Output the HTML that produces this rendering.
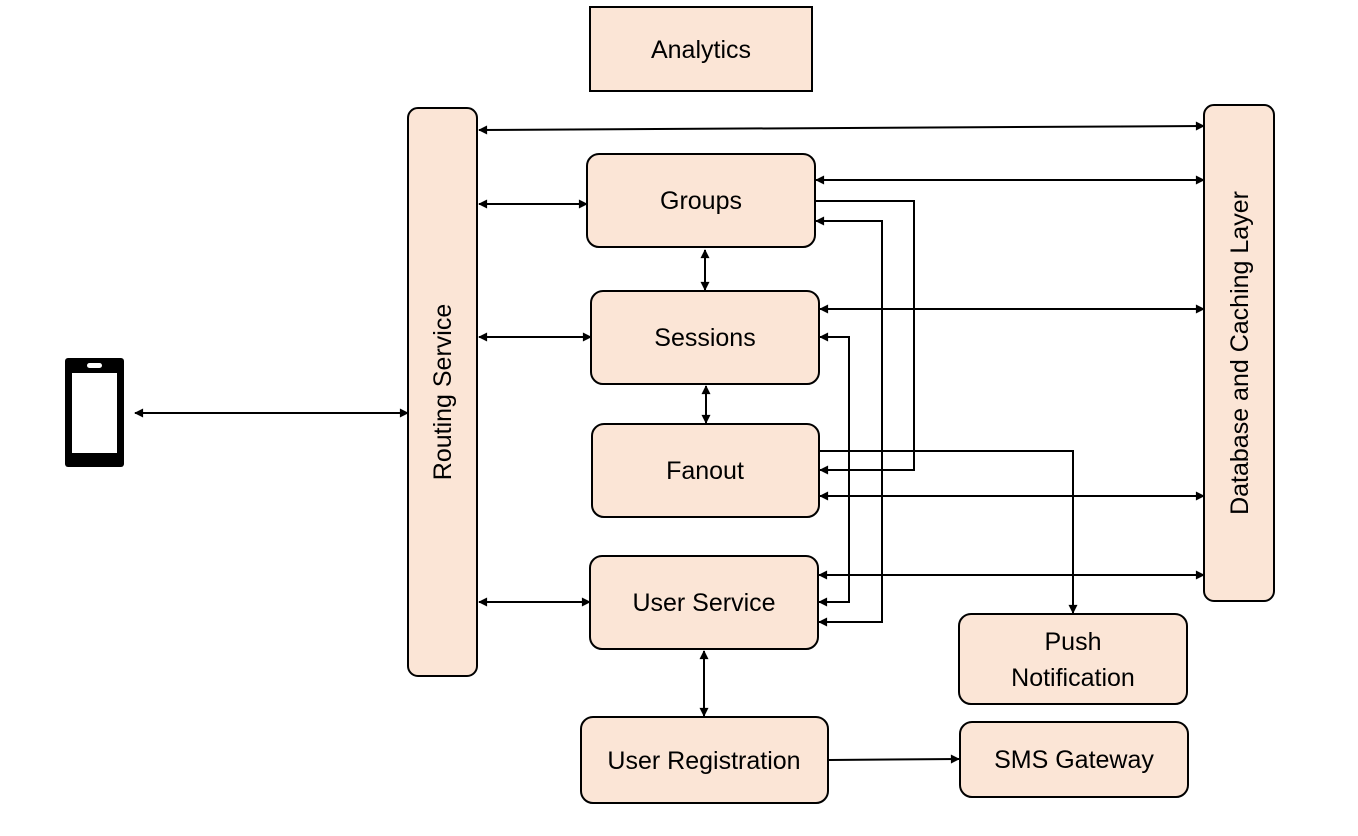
<!DOCTYPE html>
<html><head><style>body{margin:0;background:#fff}</style></head><body>
<svg width="1358" height="831" xmlns="http://www.w3.org/2000/svg" font-family="Liberation Sans, sans-serif">
<defs>
<marker id="a" viewBox="0 0 10 10" refX="9" refY="5" markerWidth="10" markerHeight="9" orient="auto-start-reverse" markerUnits="userSpaceOnUse"><path d="M0,0 L10,5 L0,10 z" fill="#000"/></marker>
</defs>
<g fill="#fbe5d6" stroke="#000" stroke-width="2">
<rect x="590" y="7" width="222" height="84"/>
<rect x="408" y="108" width="69" height="568" rx="10"/>
<rect x="1204" y="105" width="70" height="496" rx="10"/>
<rect x="587" y="154" width="228" height="93" rx="12"/>
<rect x="591" y="291" width="228" height="93" rx="12"/>
<rect x="592" y="424" width="227" height="93" rx="12"/>
<rect x="590" y="556" width="228" height="93" rx="12"/>
<rect x="581" y="717" width="247" height="86" rx="12"/>
<rect x="959" y="614" width="228" height="90" rx="12"/>
<rect x="960" y="722" width="228" height="75" rx="12"/>
</g>
<rect x="65" y="358" width="59" height="109" rx="3" fill="#000"/>
<rect x="72" y="373" width="45" height="80" fill="#fff"/>
<rect x="87" y="363" width="15" height="5" rx="2.5" fill="#fff"/>
<g stroke="#000" stroke-width="2" fill="none" marker-start="url(#a)" marker-end="url(#a)">
<line x1="135" y1="413" x2="408" y2="413"/>
<line x1="479" y1="204" x2="587" y2="204"/>
<line x1="479" y1="337" x2="591" y2="337"/>
<line x1="479" y1="602" x2="590" y2="602"/>
<line x1="479" y1="130" x2="1204" y2="126"/>
<line x1="816" y1="180" x2="1204" y2="180"/>
<line x1="820" y1="309" x2="1204" y2="309"/>
<line x1="820" y1="496" x2="1204" y2="496"/>
<line x1="819" y1="575" x2="1204" y2="575"/>
<line x1="705" y1="250" x2="705" y2="290"/>
<line x1="706" y1="386" x2="706" y2="423"/>
<line x1="704" y1="651" x2="704" y2="716"/>
<polyline points="816,221 882,221 882,622 819,622"/>
<polyline points="820,337 849,337 849,602 819,602"/>
</g>
<g stroke="#000" stroke-width="2" fill="none" marker-end="url(#a)">
<polyline points="815,201 914,201 914,470 820,470"/>
<polyline points="820,451 1073,451 1073,613"/>
<line x1="829" y1="760" x2="959" y2="759"/>
</g>
<g font-size="25" text-anchor="middle" fill="#000">
<text x="701" y="58">Analytics</text>
<text x="701" y="209">Groups</text>
<text x="705" y="346">Sessions</text>
<text x="705" y="479">Fanout</text>
<text x="704" y="611">User Service</text>
<text x="704" y="769">User Registration</text>
<text x="1073" y="650">Push</text>
<text x="1073" y="686">Notification</text>
<text x="1074" y="768">SMS Gateway</text>
<text transform="translate(451,392) rotate(-90)">Routing Service</text>
<text transform="translate(1248,353) rotate(-90)">Database and Caching Layer</text>
</g>
</svg>
</body></html>
